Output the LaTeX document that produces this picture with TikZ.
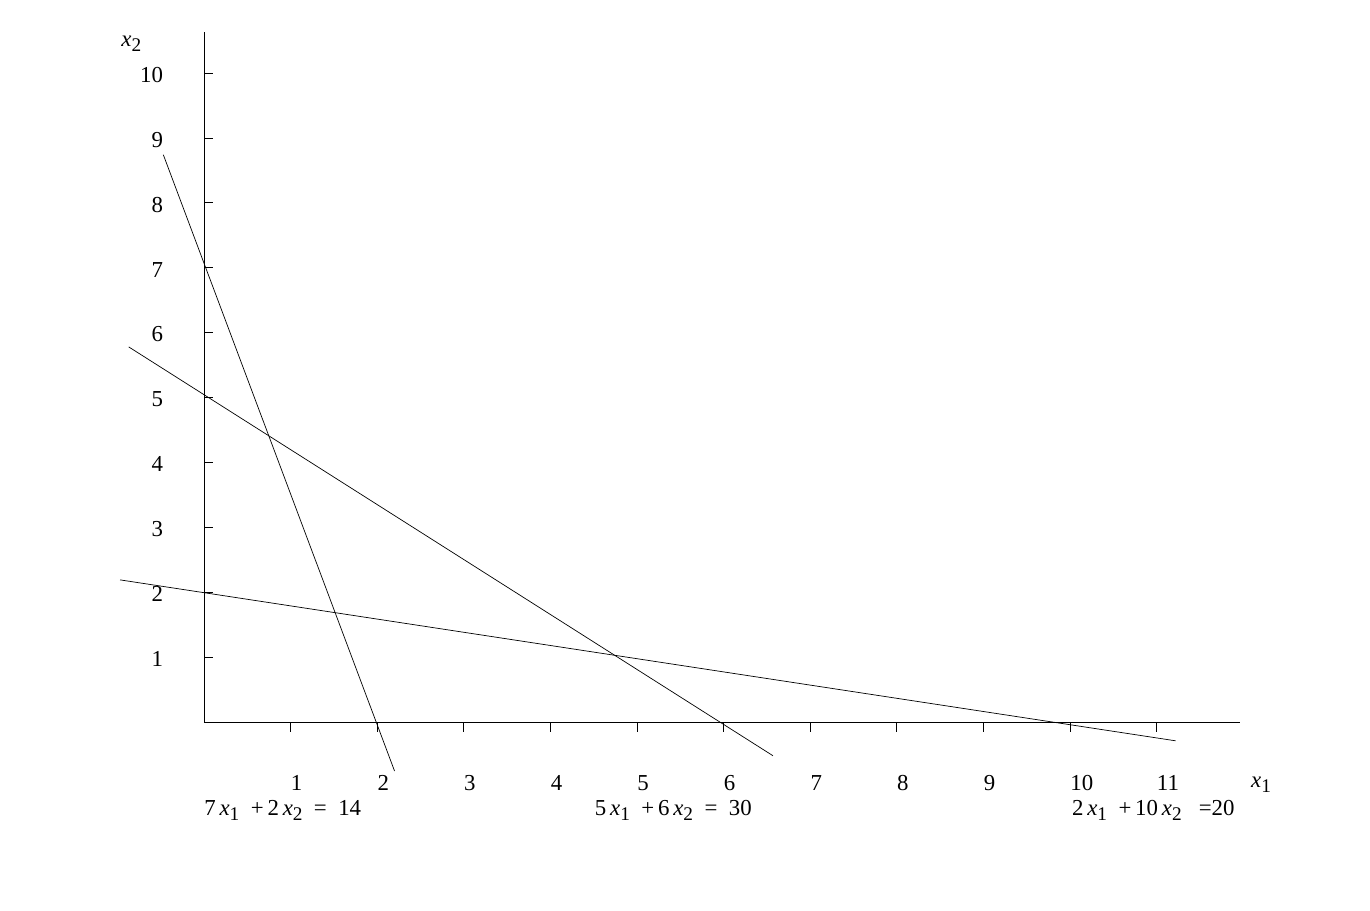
\documentclass[tikz,border=0pt]{standalone}
\usepackage{fontspec}
\setmainfont{Liberation Serif}
\newcommand{\xv}[1]{\textit{x}\raisebox{-0.5ex}{\fontsize{11}{12}\selectfont #1}}
\begin{document}
\begin{tikzpicture}[x=1.732cm,y=1.298cm,font=\fontsize{13}{15}\selectfont]
		\useasboundingbox (-2.356,-2.897) rectangle (13.464,11.125);
		\draw[line width=0.5pt] (0,10.63)--(0,0)--(11.96,0);
		\node[anchor=west] at (12.02,-0.97) {\xv{1}};
		\node at (-0.84,10.45) {\xv{2}};
		\foreach \i in {1,...,11} {
			\draw (\i,0)--(\i,-0.16);
			\node[anchor=west,inner sep=0pt] at (\i,-0.94) {\i};
		}
		\foreach \j in {1,...,10} {
			\draw (0,\j)--(0.1,\j);
			\node[anchor=east,inner sep=0pt] at (-0.47,\j-0.03) {\j};
		}
		% constraint lines
		\draw (-0.47,8.74)--(2.2,-0.755);
		\draw (-0.87,5.78)--(6.57,-0.52);
		\draw (-0.97,2.19)--(11.22,-0.29);
		\node[anchor=west,inner sep=0pt] at (0,-1.36) {7\,\xv{1} \ +\,2\,\xv{2} \ =\ \ 14};
		\node[anchor=west,inner sep=0pt] at (4.51,-1.36) {5\,\xv{1} \ +\,6\,\xv{2} \ =\ \ 30};
		\node[anchor=west,inner sep=0pt] at (10.02,-1.36) {2\,\xv{1} \ +\,10\,\xv{2} \ \ =20};
	\end{tikzpicture}
\end{document}
